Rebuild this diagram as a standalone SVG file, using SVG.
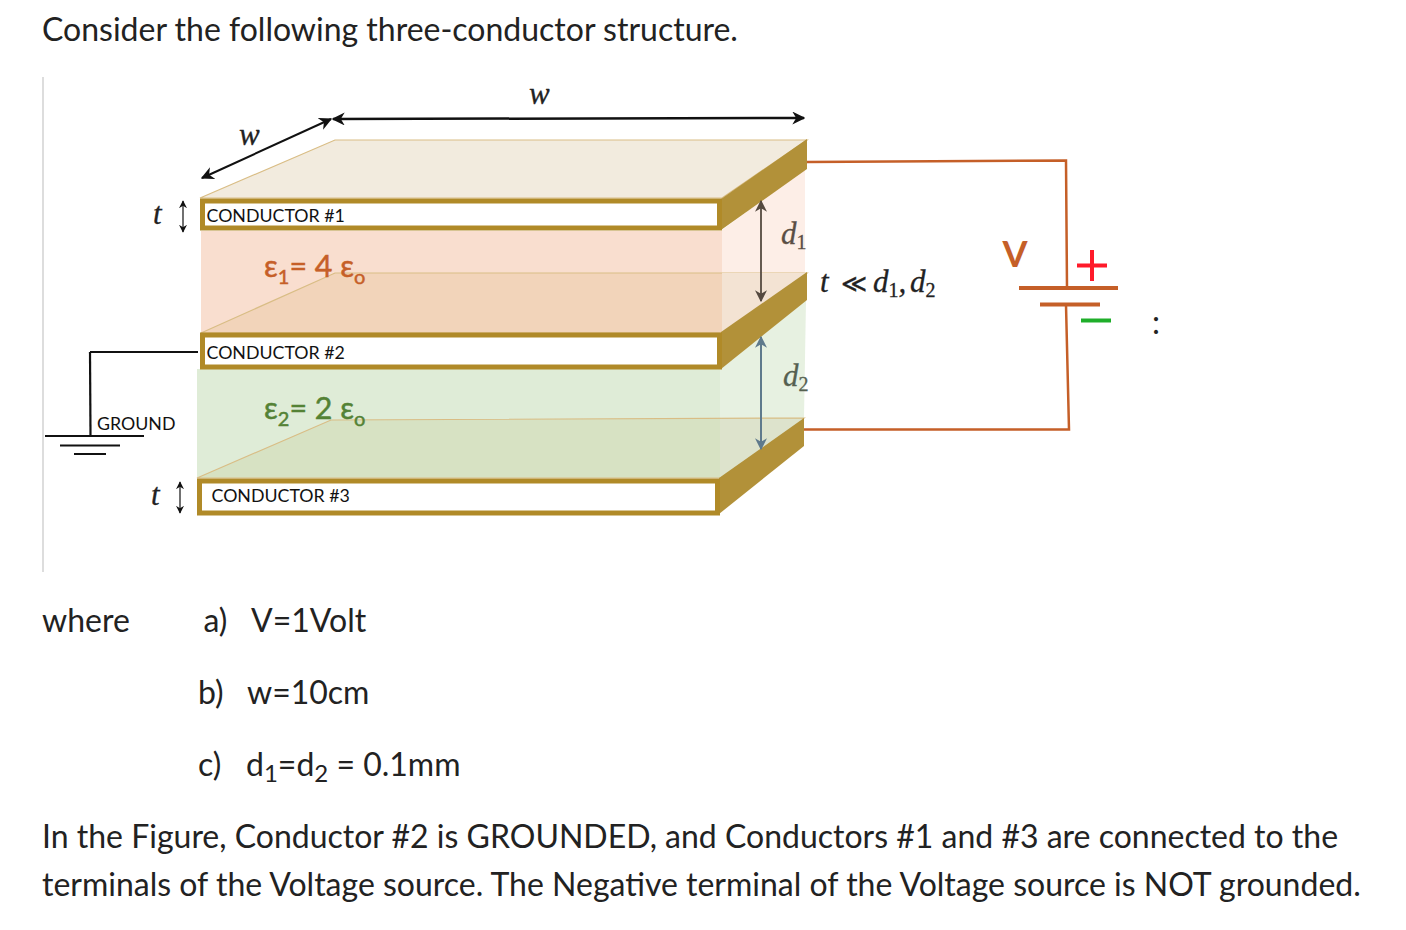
<svg xmlns="http://www.w3.org/2000/svg" width="1406" height="930" viewBox="0 0 1406 930">
<style>
.b{font-family:Lato,"Liberation Sans",sans-serif;font-size:32px;fill:#222}
.c{font-family:Lato,"Liberation Sans",sans-serif;font-size:17.800px;fill:#111}
.m{font-family:"Liberation Serif",serif;font-style:italic;font-size:31px;fill:#222;stroke:#222;stroke-width:.3}
.s{font-family:"Liberation Serif",serif;font-size:20px;font-style:normal}
.e{font-family:Lato,"Liberation Sans",sans-serif;font-size:30.400px;stroke-width:.5}
.g{fill:#b29139}
.f{fill:#fff;stroke:#b08a28;stroke-width:5}
.t{stroke:#d9bd85;stroke-width:1.2}
.w{stroke:#c55f28;stroke-width:2.5;fill:none}
.k{stroke:#111;fill:none}
.a1{stroke:#111;stroke-width:1.8;fill:none;marker-start:url(#ak);marker-end:url(#ak)}
.a2{stroke:#111;stroke-width:2;fill:none;marker-start:url(#al);marker-end:url(#al)}
</style>
<defs>
<marker id="ak" viewBox="0 0 10 10" refX="9" refY="5" markerWidth="8" markerHeight="8" markerUnits="userSpaceOnUse" orient="auto-start-reverse"><path d="M0 0L10 5L0 10L3 5Z" fill="#111"/></marker>
<marker id="al" viewBox="0 0 10 10" refX="9" refY="5" markerWidth="13" markerHeight="13" markerUnits="userSpaceOnUse" orient="auto-start-reverse"><path d="M0 0L10 5L0 10L3 5Z" fill="#111"/></marker>
<marker id="ab" viewBox="0 0 10 10" refX="9" refY="5" markerWidth="12" markerHeight="12" markerUnits="userSpaceOnUse" orient="auto-start-reverse"><path d="M0 0L10 5L0 10L3 5Z" fill="#554a40"/></marker>
<marker id="ac" viewBox="0 0 10 10" refX="9" refY="5" markerWidth="12" markerHeight="12" markerUnits="userSpaceOnUse" orient="auto-start-reverse"><path d="M0 0L10 5L0 10L3 5Z" fill="#5f7a8c"/></marker>
</defs>
<text class="b" x="42" y="41">Consider the following three-conductor structure.</text>
<rect x="42" y="77" width="2" height="495" fill="#ddd"/>
<g id="dielectric1">
<rect x="201" y="231" width="521" height="102" fill="#f9decf"/>
<path d="M722 230L805 169V272L722 333Z" fill="#fdeee7"/>
</g>
<g id="dielectric2">
<rect x="197" y="369" width="523" height="109" fill="#dfecd7"/>
<path d="M720 369L806 300L804 418L720 478Z" fill="#e7f1e1"/>
</g>
<g id="conductor1">
<path class="t" d="M200 198L335 140H807L722 198Z" fill="#f2ebde"/>
<path class="g" d="M721 199L807 139V169L721 230Z"/>
<rect class="f" x="202.500" y="201" width="517" height="27"/>
<text class="c" x="206.500" y="222">CONDUCTOR #1</text>
</g>
<g id="conductor2">
<path class="t" d="M201 333L335 273H807L722 333Z" fill="#f2d4ba"/>
<path d="M722 273H807L722 333Z" fill="#f3e3d3"/>
<path class="g" d="M721 332L807 272V300L721 369Z"/>
<rect class="f" x="202.500" y="335" width="517" height="32"/>
<text class="c" x="206.500" y="358.500">CONDUCTOR #2</text>
</g>
<g id="conductor3">
<path class="t" d="M197 478L331 420L804 418L720 478Z" fill="#d7e2c3"/>
<path d="M720 419H804L720 478Z" fill="#dde3cc"/>
<path class="g" d="M719 478L804 418V446L719 514Z"/>
<rect class="f" x="199.500" y="481" width="518" height="32"/>
<text class="c" x="211.500" y="501.500">CONDUCTOR #3</text>
</g>
<g id="connectors">
<path d="M333 119L804 118" stroke="#111" stroke-width="2.500" fill="none" marker-start="url(#al)" marker-end="url(#al)"/>
<path class="a2" d="M202 178L331 119"/>
<path class="a1" d="M183 201V232" style="stroke-width:1.2"/>
<path class="a1" d="M180 482V513" style="stroke-width:1.2"/>
<path d="M761 201V301" stroke="#554a40" stroke-width="1.800" marker-start="url(#ab)" marker-end="url(#ab)"/>
<path d="M761 337V449" stroke="#5f7a8c" stroke-width="2" marker-start="url(#ac)" marker-end="url(#ac)"/>
<path class="w" d="M807 162L1066 160.500L1067 288"/>
<path class="w" d="M1066 305L1069 429.500L804 429.500"/>
<path class="k" stroke-width="1.800" d="M198 352H90"/>
<path class="k" stroke-width="2.200" d="M90 352L90.500 436"/>
</g>
<g id="ground">
<path class="k" stroke-width="2.200" d="M45 436H144M60 445.500H120M74 454H106"/>
<text class="c" x="97" y="430">GROUND</text>
</g>
<g id="battery">
<path d="M1019 288H1118M1040 304.500H1100" stroke="#c55f28" stroke-width="4" fill="none"/>
<path d="M1077 265.500H1107M1092 250V281" stroke="#ff1a2a" stroke-width="4" fill="none"/>
<path d="M1081 320.500H1111" stroke="#1fae2a" stroke-width="4" fill="none"/>
<text x="1015" y="267" text-anchor="middle" font-family="Lato,sans-serif" font-weight="700" font-size="36" fill="#c55f28">V</text>
</g>
<g id="labels">
<text class="m" x="529" y="104">w</text>
<text class="m" x="239" y="145">w</text>
<text class="m" x="153" y="224">t</text>
<text class="m" x="151" y="505">t</text>
<text class="m" x="781" y="244" style="fill:#5a4e45;stroke:#5a4e45">d<tspan class="s" dy="5">1</tspan></text>
<text class="m" x="783" y="386" style="fill:#556050;stroke:#556050">d<tspan class="s" dy="5">2</tspan></text>
<text class="m" x="820" y="292">t<tspan x="841" font-size="25" font-style="normal">≪</tspan><tspan x="873">d</tspan><tspan class="s" dy="5">1</tspan><tspan dy="-5">,</tspan><tspan x="910">d</tspan><tspan class="s" dy="5">2</tspan></text>
<text class="e" x="264" y="277" fill="#c65f28" stroke="#c65f28">ε<tspan font-size="20" dy="7">1</tspan><tspan dy="-7">= 4 ε</tspan><tspan font-size="20" dy="7">o</tspan></text>
<text class="e" x="264" y="419" fill="#548235" stroke="#548235">ε<tspan font-size="20" dy="7">2</tspan><tspan dy="-7">= 2 ε</tspan><tspan font-size="20" dy="7">o</tspan></text>
<text class="b" x="1152" y="334">:</text>
</g>
<text class="b" x="42" y="632">where</text>
<text class="b" x="203.500" y="632">a)</text>
<text class="b" x="251" y="632">V=1Volt</text>
<text class="b" x="198" y="704">b)</text>
<text class="b" x="247" y="704">w=10cm</text>
<text class="b" x="198" y="776">c)</text>
<text class="b" x="246" y="776">d<tspan font-size="24" dy="6">1</tspan><tspan dy="-6">=d</tspan><tspan font-size="24" dy="6">2</tspan><tspan dy="-6"> = 0.1mm</tspan></text>
<text class="b" x="42" y="848">In the Figure, Conductor #2 is GROUNDED, and Conductors #1 and #3 are connected to the</text>
<text class="b" x="42" y="896">terminals of the Voltage source. The Negative terminal of the Voltage source is NOT grounded.</text>
</svg>
